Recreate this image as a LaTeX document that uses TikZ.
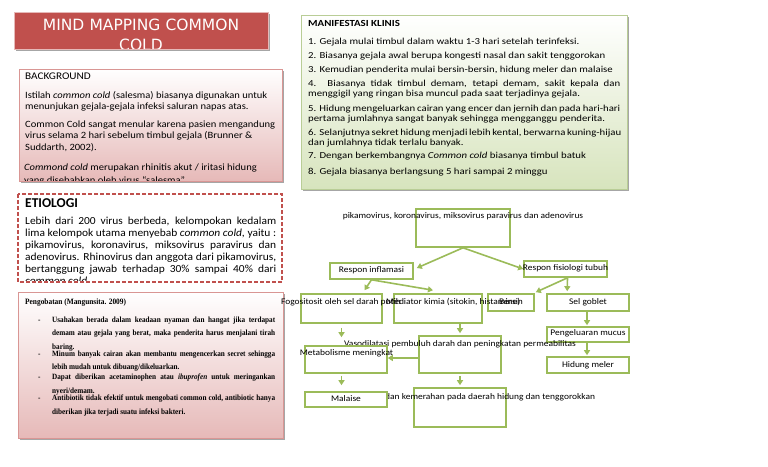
\documentclass[tikz,border=0pt]{standalone}
\usepackage{fontspec}
\setmainfont{Carlito}
\newfontfamily\widefont[FakeStretch=1.1]{Carlito}
\newfontfamily\mkfam[FakeStretch=1.17]{Carlito}
\newfontfamily\etfam[FakeStretch=1.06]{Carlito}
\newfontfamily\titlefont{DejaVu Sans}
\newfontfamily\pgfont[FakeStretch=0.9]{Liberation Serif}
\usetikzlibrary{arrows.meta,calc}
\definecolor{titlered}{HTML}{C0504D}
\definecolor{titleedge}{HTML}{E6B9B8}
\definecolor{pinkbot}{HTML}{E6B9B8}
\definecolor{pinkedge}{HTML}{D99694}
\definecolor{greenbot}{HTML}{D7E4BD}
\definecolor{greenedge}{HTML}{B9CD96}
\definecolor{flowgreen}{HTML}{9BBB59}
\definecolor{dashred}{HTML}{C0504D}
\definecolor{shadowgray}{HTML}{A6A6A6}
\newcommand{\jl}[2]{{\spaceskip=0pt\relax\xspaceskip=0pt\relax\makebox[#1][s]{#2}}}
\tikzset{
  panelshadow/.style={fill=shadowgray},
  txt/.style={inner sep=0pt, anchor=base west, align=justify},
  fbox/.style={draw=flowgreen, line width=1.6pt, fill=white, inner sep=0pt, rectangle},
  ftext/.style={inner sep=0pt, font=\widefont\fontsize{8.6}{10}\selectfont, text=black},
  farrow/.style={draw=flowgreen, line width=1.6pt, -{Triangle[width=6pt,length=5pt]}},
  bgfont/.style={font=\widefont\fontsize{9.6}{11.7}\selectfont},
  mkfont/.style={font=\mkfam\fontsize{9.2}{10}\selectfont},
  etfont/.style={font=\etfam\fontsize{10.8}{12}\selectfont},
  pgtext/.style={font=\pgfont\bfseries\fontsize{8}{13.5}\selectfont},
}
\begin{document}
\begin{tikzpicture}[x=1pt,y=-1pt]
\useasboundingbox (0,0) rectangle (768,466);
\fill[white] (0,0) rectangle (768,466);

% ---------- title ----------
\fill[panelshadow] (16,14) rectangle (270,51);
\fill[titlered] (14,12) rectangle (268,49);
\draw[titleedge, line width=1pt] (14,12) rectangle (268,49);
\begin{scope}
  \clip (14.5,12.5) rectangle (267.5,48);
  \node[inner sep=0pt, anchor=base, text=white, text width=250pt, align=center,
        font=\titlefont\fontsize{15.5}{20}\selectfont] (title) at (141,30)
        {MIND MAPPING COMMON\\COLD};
\end{scope}

% ---------- background ----------
\fill[panelshadow] (21,71) rectangle (284,183);
\shade[top color=white, bottom color=pinkbot] (19,69) rectangle (282,181);
\draw[pinkedge, line width=0.8pt] (19,69) rectangle (282,181);
\begin{scope}
  \clip (19,69) rectangle (282,180.5);
  \node[txt, text width=255pt, font=\widefont\fontsize{10.2}{12}\selectfont] (bghead) at (25,79.5) {BACKGROUND};
  \node[txt, text width=255pt, bgfont] (bgone) at (25,98)
    {Istilah \textit{common cold} (salesma) biasanya digunakan untuk\\
     menunjukan gejala-gejala infeksi saluran napas atas.};
  \node[txt, text width=255pt, bgfont] (bgtwo) at (25,127)
    {Common Cold sangat menular karena pasien mengandung\\
     virus selama 2 hari sebelum timbul gejala (Brunner \&\\
     Suddarth, 2002).};
  \node[txt, text width=258pt, font=\widefont\fontsize{9.6}{13}\selectfont] (bgthree) at (24,170)
    {\textit{Commond cold} merupakan rhinitis akut / iritasi hidung\\
     yang disebabkan oleh virus “salesma”};
\end{scope}

% ---------- manifestasi klinis ----------
\fill[panelshadow] (303,17) rectangle (629,191);
\shade[top color=white, bottom color=greenbot] (301,15) rectangle (627,189);
\draw[greenedge, line width=0.8pt] (301,15) rectangle (627,189);
\node[txt, text width=330pt, font=\mkfam\bfseries\fontsize{9.3}{11}\selectfont] (mkhead) at (308,26.5) {MANIFESTASI KLINIS};
\node[txt, text width=330pt, mkfont] (mkone) at (308,44.5) {1. Gejala mulai timbul dalam waktu 1-3 hari setelah terinfeksi.};
\node[txt, text width=330pt, mkfont] (mktwo) at (308,58.5) {2. Biasanya gejala awal berupa kongesti nasal dan sakit tenggorokan};
\node[txt, text width=330pt, mkfont] (mkthree) at (308,72.5) {3. Kemudian penderita mulai bersin-bersin, hidung meler dan malaise};
\node[txt, text width=330pt, mkfont] (mkfour) at (308,86.5)
  {\jl{312pt}{4. Biasanya tidak timbul demam, tetapi demam, sakit kepala dan}\\
   menggigil yang ringan bisa muncul pada saat terjadinya gejala.};
\node[txt, text width=330pt, mkfont] (mkfive) at (308,111)
  {\jl{312pt}{5. Hidung mengeluarkan cairan yang encer dan jernih dan pada hari-hari}\\
   pertama jumlahnya sangat banyak sehingga mengganggu penderita.};
\node[txt, text width=330pt, mkfont] (mksix) at (308,135)
  {\jl{312pt}{6. Selanjutnya sekret hidung menjadi lebih kental, berwarna kuning-hijau}\\
   dan jumlahnya tidak terlalu banyak.};
\node[txt, text width=330pt, mkfont] (mkseven) at (308,158.5) {7. Dengan berkembangnya \textit{Common cold} biasanya timbul batuk};
\node[txt, text width=330pt, mkfont] (mkeight) at (308,174.5) {8. Gejala biasanya berlangsung 5 hari sampai 2 minggu};

% ---------- etiologi ----------
\fill[white] (18,194) rectangle (282,282);
\draw[dashred, line width=1.1pt, dash pattern=on 4pt off 2pt] (18,194) rectangle (282,282);
\begin{scope}
  \clip (18.6,194.6) rectangle (281.4,280);
  \node[txt, text width=255pt, font=\bfseries\fontsize{13.5}{14}\selectfont] (ethead) at (25,207.5) {ETIOLOGI};
  \node[txt, text width=255pt, etfont] (etbody) at (25,224.5)
    {\jl{251pt}{Lebih dari 200 virus berbeda, kelompokan kedalam}\\
     \jl{251pt}{lima kelompok utama menyebab \textit{common cold,} yaitu :}\\
     \jl{251pt}{pikamovirus, koronavirus, miksovirus paravirus dan}\\
     \jl{251pt}{adenovirus. Rhinovirus dan anggota dari pikamovirus,}\\
     \jl{251pt}{bertanggung jawab terhadap 30\% sampai 40\% dari}\\
     \textit{common cold}.};
\end{scope}

% ---------- pengobatan ----------
\fill[panelshadow] (20,294) rectangle (285,440);
\shade[top color=white, bottom color=pinkbot] (18,292) rectangle (283,438);
\draw[pinkedge, line width=0.8pt] (18,292) rectangle (283,438);
\node[txt, text width=255pt, font=\pgfont\bfseries\fontsize{8.2}{10}\selectfont] (pghead) at (25,304.5) {Pengobatan (Mangunsita. 2009)};
\node[txt, pgtext] (dashone) at (38,322) {-};
\node[txt, pgtext] (dashtwo) at (38,356) {-};
\node[txt, pgtext] (dashthree) at (38,379.5) {-};
\node[txt, pgtext] (dashfour) at (38,400.5) {-};
\node[txt, text width=224pt, pgtext] (pgone) at (52,322)
  {\jl{223pt}{Usahakan berada dalam keadaan nyaman dan hangat jika terdapat}\\
   \jl{223pt}{demam atau gejala yang berat, maka penderita harus menjalani tirah}\\
   baring.};
\node[txt, text width=224pt, pgtext] (pgtwo) at (52,356)
  {\jl{223pt}{Minum banyak cairan akan membantu mengencerkan secret sehingga}\\
   lebih mudah untuk dibuang/dikeluarkan.};
\node[txt, text width=224pt, pgtext] (pgthree) at (52,379.5)
  {\jl{223pt}{Dapat diberikan acetaminophen atau \textit{ibuprofen} untuk meringankan}\\
   nyeri/demam.};
\node[txt, text width=224pt, pgtext] (pgfour) at (52,400.5)
  {\jl{223pt}{Antibiotik tidak efektif untuk mengobati common cold, antibiotic hanya}\\
   diberikan jika terjadi suatu infeksi bakteri.};

% ---------- flow chart boxes ----------
\node[fbox, minimum width=94pt, minimum height=38pt] (top) at (463,228) {};
\node[fbox, minimum width=83pt, minimum height=16pt] (ri) at (371.5,271) {};
\node[fbox, minimum width=83pt, minimum height=16pt] (rf) at (565.5,269) {};
\node[fbox, minimum width=81pt, minimum height=29pt] (fogo) at (341.5,308.5) {};
\node[fbox, minimum width=88pt, minimum height=29pt] (med) at (438,308.5) {};
\node[fbox, minimum width=46pt, minimum height=17pt] (bersin) at (511,302.5) {};
\node[fbox, minimum width=82pt, minimum height=17pt] (goblet) at (588,302.5) {};
\node[fbox, minimum width=82pt, minimum height=15pt] (mucus) at (588,334.5) {};
\node[fbox, minimum width=82pt, minimum height=16pt] (meler) at (588,365) {};
\node[fbox, minimum width=82pt, minimum height=37pt] (vaso) at (460,354.5) {};
\node[fbox, minimum width=92pt, minimum height=39pt] (bottom) at (460,407.5) {};

% ---------- flow chart texts ----------
\node[ftext] (toptxt) at (463,216) {pikamovirus, koronavirus, miksovirus paravirus dan adenovirus};
\node[ftext] (ritxt) at (371.5,270.5) {Respon inflamasi};
\node[ftext] (rftxt) at (565.5,268) {Respon fisiologi tubuh};
\node[ftext] (fogotxt) at (341,302) {Fogositosit oleh sel darah putih};
\node[ftext, anchor=west] (medtxt) at (386,302) {Mediator kimia (sitokin, histamine)};
\node[ftext] (bersintxt) at (511,302) {Bersin};
\node[ftext] (goblettxt) at (588,302) {Sel goblet};
\node[ftext] (mucustxt) at (588,333.5) {Pengeluaran mucus};
\node[ftext] (melertxt) at (588,365) {Hidung meler};
\node[ftext] (vasotxt) at (460,344.5) {Vasodilatasi pembuluh darah dan peningkatan permeabilitas};
\node[ftext, anchor=west] (bottxt) at (385,397) {dan kemerahan pada daerah hidung dan tenggorokkan};

\node[fbox, minimum width=82pt, minimum height=27pt] (metab) at (346,359.5) {};
\node[fbox, minimum width=82pt, minimum height=15pt] (malaise) at (346,399.5) {};
\node[ftext] (metabtxt) at (346.5,353) {Metabolisme meningkat};
\node[ftext] (malaisetxt) at (346,398.5) {Malaise};

% ---------- connectors ----------
\draw[farrow] (top.south) -- ($(ri.east)+(3,-3)$);
\draw[farrow] (top.south) -- (rf.west);
\draw[farrow] (ri.south) -- ($(fogo.north)+(23,-3)$);
\draw[farrow] (ri.south) -- ($(med.north)+(-5,-3)$);
\draw[farrow] ($(rf.south)+(2,0)$) -- ($(bersin.north east)+(1,-1)$);
\draw[farrow] ($(rf.south)+(2,0)$) -- ($(goblet.north west)+(21,-2)$);
\draw[farrow] ($(goblet.south)+(-1,0)$) -- ($(mucus.north)+(-1,-1)$);
\draw[farrow] ($(mucus.south)+(-1,0)$) -- ($(meler.north)+(-1,-1)$);
\draw[farrow] ($(fogo.south)+(0,4)$) -- ($(metab.north)+(-4.5,-8)$);
\draw[farrow] ($(med.south)+(22,0)$) -- ($(vaso.north)+(0,-2)$);
\draw[farrow] ($(vaso.west)+(0,3.5)$) -- ($(metab.east)+(0,-1.5)$);
\draw[farrow] ($(metab.south)+(-4.5,2)$) -- ($(malaise.north)+(-4.5,-6)$);
\draw[farrow] ($(vaso.south)+(0,2)$) -- ($(bottom.north)+(0,-2)$);
\end{tikzpicture}
\end{document}
